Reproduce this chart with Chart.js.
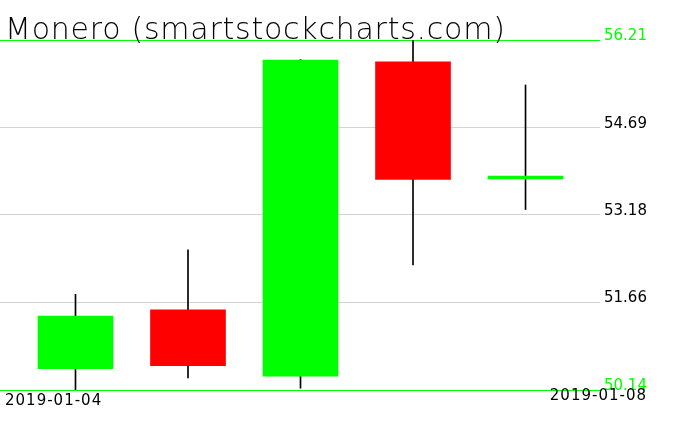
<!DOCTYPE html>
<html>
<head>
<meta charset="utf-8">
<script src="https://cdn.jsdelivr.net/npm/chart.js@4.4.0/dist/chart.umd.min.js"></script>
<style>
  html, body { margin: 0; padding: 0; background: #fff; }
  #wrap { width: 676px; height: 431px; }
</style>
</head>
<body>
<div id="wrap"><canvas id="chart" width="676" height="431"></canvas></div>
<script>
// chart data
const title = 'Monero (smartstockcharts.com)';
const dates = ['2019-01-04', '2019-01-05', '2019-01-06', '2019-01-07', '2019-01-08'];
const opens = [50.51, 51.53, 50.38, 55.83, 53.80];
const highs = [51.80, 52.57, 55.87, 56.21, 55.43];
const lows = [50.14, 50.35, 50.17, 52.31, 53.27];
const closes = [51.42, 50.56, 55.86, 53.79, 53.80];
const yTicks = [50.14, 51.66, 53.18, 54.69, 56.21];

const GREEN = '#00ff00';
const RED = '#ff0000';
const thinFont = '"DejaVu Sans"';

// title + first/last date drawn on top of the plot
const textPlugin = {
  id: 'texts',
  afterDraw(chart) {
    const ctx = chart.ctx;
    ctx.save();
    ctx.fillStyle = '#000';
    ctx.textBaseline = 'alphabetic';
    ctx.font = '200 30px ' + thinFont;
    ctx.letterSpacing = '0.75px';
    ctx.textAlign = 'left';
    ctx.fillText(title, 5, 39);

    ctx.font = '15px ' + thinFont;
    ctx.letterSpacing = '1px';
    ctx.textBaseline = 'middle';
    ctx.fillText(dates[0], 5, 401);
    ctx.textAlign = 'right';
    ctx.fillText(dates[dates.length - 1], 647, 396);
    ctx.restore();
  }
};

const bodyColors = opens.map((o, i) => closes[i] >= o ? GREEN : RED);

new Chart(document.getElementById('chart').getContext('2d'), {
  type: 'bar',
  data: {
    datasets: [{
      label: 'body',
      data: dates.map((d, i) => ({ x: i, y: [opens[i], closes[i]] })),
      backgroundColor: bodyColors,
      borderWidth: 0,
      barThickness: 75,
      minBarLength: 3,
      grouped: false
    }, {
      label: 'wick',
      data: dates.map((d, i) => ({ x: i, y: [lows[i], highs[i]] })),
      backgroundColor: '#000',
      borderWidth: 0,
      barThickness: 1,
      grouped: false
    }]
  },
  options: {
    responsive: false,
    animation: false,
    devicePixelRatio: 1,
    layout: { padding: { top: 40, bottom: 41, left: 0, right: 0 } },
    plugins: {
      legend: { display: false },
      tooltip: { enabled: false }
    },
    scales: {
      x: {
        type: 'linear',
        min: -0.671,
        max: 4.662,
        offset: false,
        display: false
      },
      y: {
        position: 'right',
        min: yTicks[0],
        max: yTicks[yTicks.length - 1],
        afterBuildTicks: axis => { axis.ticks = yTicks.map(v => ({ value: v })); },
        afterFit: axis => { axis.width = 76; },
        border: { display: false },
        grid: {
          drawTicks: false,
          lineWidth: 1,
          color: c => (c.index === 0 || c.index === yTicks.length - 1) ? GREEN : '#d3d3d3'
        },
        ticks: {
          padding: 4,
          labelOffset: -4,
          font: { family: 'DejaVu Sans', size: 15 },
          color: c => (c.index === 0 || c.index === yTicks.length - 1) ? GREEN : '#000',
          callback: v => v.toFixed(2)
        }
      }
    }
  },
  plugins: [textPlugin]
});
</script>
</body>
</html>
